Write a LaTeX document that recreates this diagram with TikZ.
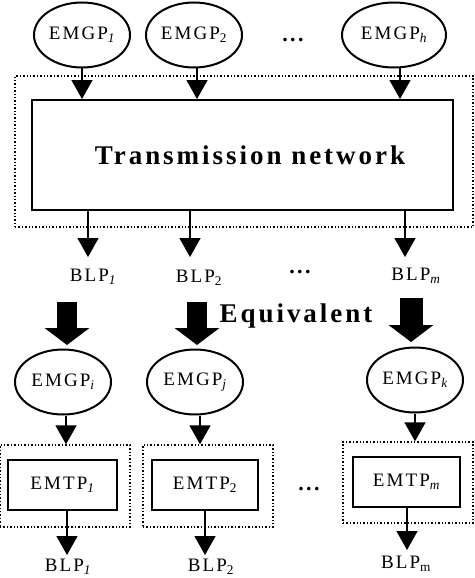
\documentclass[tikz,border=0pt]{standalone}
\usepackage{fontspec}
\setmainfont{Liberation Serif}[LetterSpace=11]
\newfontfamily\wide{Liberation Serif}[LetterSpace=11]
\usetikzlibrary{shapes.geometric,arrows.meta}
\newcommand\sbs[1]{\textsubscript{#1}}
\newcommand\fs{\fontsize{19pt}{22pt}\selectfont}
\newcommand\fb{\fontsize{27pt}{30pt}\selectfont\wide\bfseries}
\tikzset{
  ell/.style={draw, line width=2pt, ellipse, minimum width=96pt, minimum height=65pt, inner sep=0pt, font=\fs},
  sbox/.style={draw, line width=2pt, rectangle, inner sep=0pt, font=\fs},
  dbox/.style={draw, dotted, line width=1.4pt, rectangle, inner sep=0pt},
  lbl/.style={inner sep=0pt, font=\fs},
  dots/.style={inner sep=0pt, font=\fontsize{22pt}{22pt}\selectfont\bfseries},
  arr/.style={line width=1.6pt, -{Triangle[width=21pt,length=19pt]}},
  fat/.style={line width=20pt, -{Triangle[width=44pt,length=17pt]}}
}
\begin{document}
\begin{tikzpicture}[x=1pt,y=-1pt]
\useasboundingbox (0,0) rectangle (474,578);
% top ellipses
\node[ell] (e1) at (82,35) {EMGP\sbs{\itshape 1}};
\node[ell] (e2) at (194,35) {EMGP\sbs{2}};
\node[ell, minimum width=104pt] (e3) at (394,35) {EMGP\sbs{\itshape h}};
\node[dots] (dt1) at (293,40) {...};
% network
\node[dbox, minimum width=458pt, minimum height=151pt] (outer) at (244,151.5) {};
\node[sbox, minimum width=421pt, minimum height=110pt] (net) at (242.5,155) {};
\node[inner sep=0pt, font=\fb] (nettext) at (250,155) {Transmission network};
\draw[arr] (e1.south) -- (e1.south |- net.north);
\draw[arr] ([xshift=3pt]e2.south) -- ([xshift=3pt]e2.south |- net.north);
\draw[arr] ([xshift=6pt]e3.south) -- ([xshift=6pt]e3.south |- net.north);
% outputs
\coordinate (o1) at (88,257);
\coordinate (o2) at (190,257);
\coordinate (o3) at (405,257);
\draw[arr] (net.south -| o1) -- (o1);
\draw[arr] (net.south -| o2) -- (o2);
\draw[arr] (net.south -| o3) -- (o3);
\node[lbl] (b1) at (93,277) {BLP\sbs{\itshape 1}};
\node[lbl] (b2) at (199,278) {BLP\sbs{2}};
\node[lbl] (b3) at (416,276) {BLP\sbs{\itshape m}};
\node[dots] (dt2) at (300,272) {...};
% equivalent arrows
\node[inner sep=0pt, font=\fb] (eq) at (296,316) {Equivalent};
\coordinate (q1s) at (67,302);  \coordinate (q1e) at (67,345);
\coordinate (q2s) at (197,302); \coordinate (q2e) at (197,345);
\coordinate (q3s) at (411,298); \coordinate (q3e) at (411,342);
\draw[fat] (q1s) -- (q1e);
\draw[fat] (q2s) -- (q2e);
\draw[fat, line width=23pt] (q3s) -- (q3e);
% lower ellipses
\node[ell] (f1) at (63,382) {EMGP\sbs{\itshape i}};
\node[ell] (f2) at (195,382) {EMGP\sbs{\itshape j}};
\node[ell] (f3) at (415,380) {EMGP\sbs{\itshape k}};
% EMTP blocks
\node[dbox, minimum width=130pt, minimum height=82pt] (d1) at (65,486) {};
\node[dbox, minimum width=130pt, minimum height=82pt] (d2) at (208,486) {};
\node[dbox, minimum width=130pt, minimum height=81pt] (d3) at (408,482.5) {};
\node[sbox, minimum width=109pt, minimum height=50pt] (s1) at (62.5,485) {EMTP\sbs{\itshape 1}};
\node[sbox, minimum width=106pt, minimum height=50pt] (s2) at (205,485) {EMTP\sbs{2}};
\node[sbox, minimum width=107pt, minimum height=50pt] (s3) at (406.5,482) {EMTP\sbs{\itshape m}};
\node[dots] (dt3) at (309,489) {...};
\draw[arr] ([xshift=3pt]f1.south) -- ([xshift=3pt]f1.south |- d1.north);
\draw[arr] ([xshift=5pt]f2.south) -- ([xshift=5pt]f2.south |- d2.north);
\draw[arr] (f3.south) -- (f3.south |- d3.north);
\coordinate (t1) at (67,555);
\coordinate (t2) at (205,555);
\coordinate (t3) at (407,550);
\draw[arr] (s1.south -| t1) -- (t1);
\draw[arr] (s2.south -| t2) -- (t2);
\draw[arr] (s3.south -| t3) -- (t3);
\node[lbl] (c1) at (68,567) {BLP\sbs{\itshape 1}};
\node[lbl] (c2) at (211,567) {BLP\sbs{2}};
\node[lbl] (c3) at (406,564) {BLP\sbs{m}};
\end{tikzpicture}
\end{document}
